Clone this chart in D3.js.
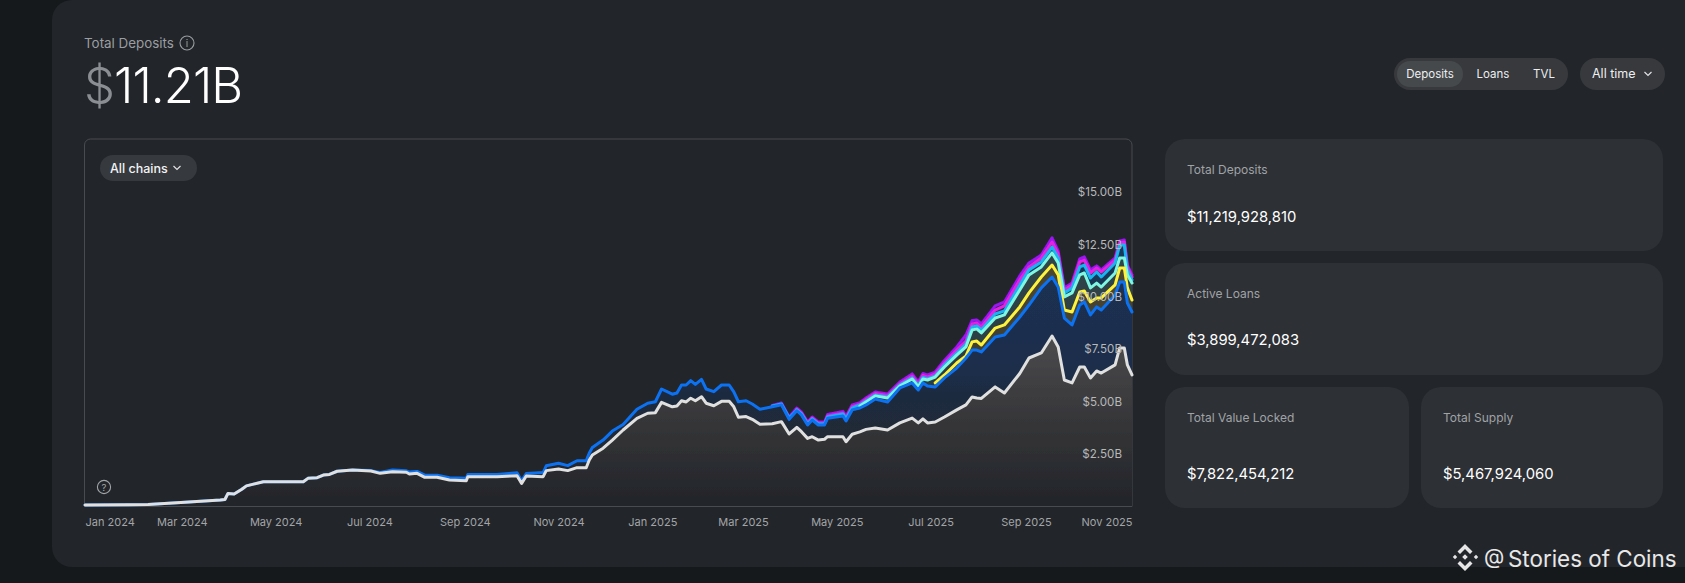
<!DOCTYPE html>
<html><head><meta charset="utf-8">
<script src="https://cdn.jsdelivr.net/npm/d3@7/dist/d3.min.js"></script>
<style>
html,body{margin:0;padding:0;background:#15191b;overflow:hidden}
svg{display:block}
text{font-family:Inter,"Noto Sans",sans-serif}
</style></head><body>
<svg id="c" width="1685" height="583"></svg>
<script>
// ---- data (values in $B) ----
const earlyDates = ["2023-12-29","2024-01-27","2024-02-08","2024-03-03","2024-03-26","2024-03-29","2024-03-31","2024-04-04","2024-04-09","2024-04-12","2024-04-23","2024-05-19","2024-05-22","2024-05-28","2024-06-01","2024-06-05","2024-06-10","2024-06-20","2024-07-02","2024-07-08","2024-07-16","2024-07-25","2024-07-27","2024-08-01","2024-08-06","2024-08-14","2024-08-22","2024-09-02","2024-09-03","2024-09-22","2024-10-05","2024-10-08","2024-10-11","2024-10-22","2024-10-24","2024-11-01","2024-11-07","2024-11-13","2024-11-19","2024-11-21","2024-11-23","2024-11-30","2024-12-06","2024-12-13","2024-12-22","2024-12-29","2025-01-03","2025-01-07","2025-01-14","2025-01-17","2025-01-20","2025-01-23","2025-01-26","2025-01-29","2025-02-02","2025-02-05","2025-02-10","2025-02-15","2025-02-20","2025-02-23","2025-02-26","2025-03-03","2025-03-07","2025-03-12"];
const lateDates = ["2025-03-20","2025-03-26","2025-03-31","2025-04-05","2025-04-08","2025-04-12","2025-04-15","2025-04-19","2025-04-23","2025-04-25","2025-05-05","2025-05-07","2025-05-11","2025-05-16","2025-05-20","2025-05-26","2025-06-03","2025-06-11","2025-06-19","2025-06-23","2025-06-26","2025-06-29","2025-07-04","2025-07-10","2025-07-18","2025-07-24","2025-07-28","2025-07-31","2025-08-03","2025-08-12","2025-08-18","2025-08-28","2025-09-03","2025-09-11","2025-09-18","2025-09-22","2025-09-26","2025-10-01","2025-10-06","2025-10-09","2025-10-13","2025-10-17","2025-10-20","2025-10-29","2025-11-01","2025-11-04","2025-11-06","2025-11-09"];

const whiteEarly = [.05,.06,.07,.18,.29,.31,.60,.57,.80,.96,1.16,1.16,1.32,1.35,1.48,1.51,1.66,1.72,1.67,1.56,1.64,1.61,1.53,1.56,1.37,1.37,1.24,1.21,1.40,1.40,1.45,1.08,1.43,1.40,1.69,1.77,1.69,1.83,1.83,2.20,2.44,2.76,3.15,3.63,4.19,4.43,4.46,4.95,4.74,4.78,5.03,4.97,5.15,5.03,5.22,4.91,4.79,5.00,5.00,4.74,4.24,4.27,4.14,3.90];
const blueEarly = [.05,.06,.07,.18,.29,.31,.60,.57,.80,.96,1.16,1.16,1.32,1.35,1.48,1.51,1.66,1.72,1.69,1.60,1.72,1.68,1.62,1.65,1.48,1.47,1.35,1.32,1.50,1.51,1.59,1.20,1.55,1.60,1.92,2.04,1.93,2.16,2.16,2.53,2.79,3.15,3.58,3.89,4.62,4.91,4.98,5.59,5.34,5.40,5.78,5.78,5.99,5.81,6.05,5.59,5.46,5.78,5.78,5.45,4.98,5.03,4.87,4.62];

const whiteLate = [3.93,4.03,3.44,3.76,3.55,3.23,3.31,3.15,3.19,3.31,3.31,3.07,3.43,3.54,3.66,3.73,3.63,3.97,4.20,3.97,4.16,3.97,4.01,4.25,4.59,4.83,5.21,5.16,5.14,5.69,5.40,6.33,7.07,7.31,8.12,7.60,6.02,5.88,6.64,6.64,6.12,6.45,6.35,6.74,7.55,7.55,6.74,6.26];
const blueLate = [4.74,4.83,4.14,4.55,4.35,3.87,4.11,3.87,3.87,4.19,4.30,4.06,4.59,4.68,4.83,5.11,4.97,5.64,5.88,5.54,5.88,5.73,5.69,6.12,6.59,7.07,7.45,7.45,7.36,8.07,8.17,9.03,9.60,10.42,10.94,10.46,8.98,8.65,9.60,9.75,9.13,9.51,9.36,10.08,10.70,10.70,9.70,9.27];
const yellowLate = [null,null,null,null,null,null,null,null,null,null,null,null,null,null,null,null,null,null,null,null,null,null,5.88,6.26,6.83,7.17,7.84,7.88,7.69,8.50,8.65,9.51,10.18,10.94,11.51,11.04,9.36,9.27,10.22,10.27,9.75,9.94,9.94,10.56,11.37,11.37,10.42,9.84];
const aquaLate = [null,null,null,null,null,null,null,null,null,null,null,null,null,4.78,4.97,5.26,5.16,5.73,6.07,5.69,6.07,6.02,6.16,6.64,7.21,7.60,8.41,8.46,8.27,8.98,9.13,10.32,11.04,11.42,12.09,11.61,9.99,10.18,11.04,11.13,10.42,10.65,10.46,11.13,11.85,11.85,11.04,10.65];
const skyLate = [4.78,4.87,4.20,4.59,4.40,3.92,4.16,3.92,3.92,4.25,4.40,4.16,4.68,4.83,5.02,5.30,5.21,5.78,6.12,5.76,6.14,6.07,6.21,6.74,7.31,7.74,8.55,8.60,8.41,9.17,9.32,10.56,11.28,11.66,12.37,11.85,10.18,10.42,11.42,11.51,10.89,11.18,10.94,11.61,12.47,12.47,11.28,10.80];
const magentaLate = [null,null,null,4.63,4.44,3.97,4.20,3.97,3.97,4.30,4.44,4.20,4.75,4.86,5.09,5.38,5.28,5.83,6.21,5.83,6.24,6.16,6.31,6.83,7.45,7.88,8.70,8.74,8.55,9.36,9.56,10.80,11.42,11.85,12.61,12.04,10.32,10.56,11.66,11.75,11.13,11.37,11.18,11.75,12.57,12.61,11.42,10.94];
const purpleLate = [4.80,4.92,4.25,4.68,4.49,4.01,4.25,4.01,4.01,4.37,4.52,4.28,4.83,4.94,5.16,5.45,5.35,5.92,6.31,5.92,6.33,6.26,6.40,6.95,7.60,8.17,8.86,8.89,8.70,9.56,9.75,10.99,11.61,11.99,12.81,12.18,10.42,10.65,11.80,11.90,11.28,11.47,11.28,11.85,12.66,12.71,11.51,11.04];

const yTicks = [2.5,5,7.5,10,12.5,15];
const xTickDates = ["2024-01-01","2024-03-01","2024-05-01","2024-07-01","2024-09-01","2024-11-01","2025-01-01","2025-03-01","2025-05-01","2025-07-01","2025-09-01","2025-11-01"];
const statLabels = ["Total Deposits","Active Loans","Total Value Locked","Total Supply"];
const statValues = ["$11,219,928,810","$3,899,472,083","$7,822,454,212","$5,467,924,060"];
const toggleLabels = ["Deposits","Loans","TVL"];

// ---- helpers ----
const svg = d3.select("#c");
const parse = d3.utcParse("%Y-%m-%d");
const zip = (ds, vs) => ds.map((d,i)=>({date:parse(d),v:vs[i]}));
const x = d3.scaleUtc().domain([parse("2023-12-29"),parse("2025-11-09")]).range([85,1132]);
const y = d3.scaleLinear().domain([0,15]).range([506,192]);

const defs = svg.append("defs");
function grad(id, stops){
  const g = defs.append("linearGradient").attr("id",id).attr("gradientUnits","userSpaceOnUse")
    .attr("x1",0).attr("x2",0).attr("y1",stops[0][0]).attr("y2",stops[stops.length-1][0]);
  const a=stops[0][0], b=stops[stops.length-1][0];
  stops.forEach(s=>g.append("stop").attr("offset",(s[0]-a)/(b-a)).attr("stop-color",s[1]));
}
grad("gWhite",[[335,"#4c4c4e"],[400,"#3b3b3e"],[450,"#2f3033"],[506,"#22252a"]]);
grad("gBlue",[[280,"#1b3052"],[370,"#1d2e4a"],[400,"#1f2b3e"],[470,"#21282f"],[506,"#22252a"]]);
grad("gYellow",[[260,"#4c472f"],[400,"#3a3a30"]]);
grad("gAqua",[[250,"#2e4649"],[400,"#2a3a40"]]);
grad("gSky",[[240,"#173a5c"],[400,"#1c3048"]]);
grad("gMag",[[235,"#3a2a55"],[400,"#2a2a48"]]);
defs.append("filter").attr("id","soft").attr("x","-2%").attr("y","-2%").attr("width","104%").attr("height","104%")
  .append("feGaussianBlur").attr("stdDeviation",0.35);

// ---- panel ----
svg.append("rect").attr("x",0).attr("y",0).attr("width",1685).attr("height",583).attr("fill","#15191b");
svg.append("rect").attr("x",52).attr("y",0).attr("width",1700).attr("height",567).attr("rx",20).attr("fill","#22252a");

// ---- header ----
svg.append("text").attr("x",84).attr("y",47.5).attr("font-size",13.4).attr("fill","#9b9ea1").text("Total Deposits");
const info = svg.append("g").attr("transform","translate(187,43)");
info.append("circle").attr("r",7).attr("fill","none").attr("stroke","#9b9ea1").attr("stroke-width",1.1);
info.append("text").attr("text-anchor","middle").attr("y",3.6).attr("font-size",10).attr("fill","#9b9ea1").text("i");
const big = svg.append("text").attr("x",84).attr("y",103).attr("font-size",49).attr("font-weight",300).attr("letter-spacing",-0.9);
big.append("tspan").attr("fill","#8b8e92").text("$");
big.append("tspan").attr("fill","#ffffff").text("11.21B");

// toggle
svg.append("rect").attr("x",1394).attr("y",58).attr("width",174).attr("height",32).attr("rx",16).attr("fill","#37393d");
svg.append("rect").attr("x",1397).attr("y",61).attr("width",66).attr("height",26).attr("rx",13).attr("fill","#46494c");
[1430,1493,1544].forEach((cx,i)=>svg.append("text").attr("x",cx).attr("y",77.5).attr("text-anchor","middle").attr("font-size",11.5).attr("fill","#eceef0").text(toggleLabels[i]));
svg.append("rect").attr("x",1580).attr("y",58).attr("width",85).attr("height",32).attr("rx",16).attr("fill","#37393d");
svg.append("text").attr("x",1592).attr("y",78).attr("font-size",12.5).attr("fill","#eceef0").text("All time");
const chev=(cx,cy)=>svg.append("path").attr("d",`M${cx-3.5},${cy-2}L${cx},${cy+1.5}L${cx+3.5},${cy-2}`).attr("fill","none").attr("stroke","#e0e2e4").attr("stroke-width",1.2);
chev(1648,74);

// ---- stat cards ----
const cards=[[1165,139,498,112,1187,170,216],[1165,263,498,112,1187,294,339],[1165,387,244,121,1187,418,473],[1421,387,242,121,1443,418,473]];
cards.forEach((c,i)=>{
  svg.append("rect").attr("x",c[0]).attr("y",c[1]).attr("width",c[2]).attr("height",c[3]).attr("rx",20).attr("fill","#2d3035");
  svg.append("text").attr("x",c[4]).attr("y",c[5]+4).attr("font-size",12).attr("fill","#a0a3a6").text(statLabels[i]);
  svg.append("text").attr("x",c[4]).attr("y",c[6]+5.5).attr("font-size",14.8).attr("fill","#ffffff").text(statValues[i]);
});

// ---- chart frame ----
svg.append("path").attr("d","M84.5,506.5V145a6,6 0 0 1 6,-6H1126a6,6 0 0 1 6,6V506.5Z").attr("fill","none").attr("stroke","#484b4f").attr("stroke-width",1);

// ---- series, top of stack first ----
const late = [
  {vals:purpleLate, color:"#9a12f2", fill:"url(#gMag)"},
  {vals:magentaLate,color:"#e524e0", fill:"url(#gMag)"},
  {vals:skyLate,    color:"#16b4f2", fill:"url(#gSky)"},
  {vals:aquaLate,   color:"#7ff6e2", fill:"url(#gAqua)"},
  {vals:yellowLate, color:"#fff23c", fill:"url(#gYellow)"}
];
const area = d3.area().defined(d=>d.v!=null).x(d=>x(d.date)).y0(y(0)).y1(d=>y(d.v));
const line = d3.line().defined(d=>d.v!=null).x(d=>x(d.date)).y(d=>y(d.v));
const marks = svg.append("g").attr("filter","url(#soft)");
const blueAll = zip(earlyDates.concat(lateDates), blueEarly.concat(blueLate));
const whiteAll = zip(earlyDates.concat(lateDates), whiteEarly.concat(whiteLate));
const layers = late.map(s=>({data:zip(lateDates,s.vals),color:s.color,fill:s.fill}))
  .concat([{data:blueAll,color:"#0b72f2",fill:"url(#gBlue)"},{data:whiteAll,color:"#e0e0e0",fill:"url(#gWhite)"}]);
layers.forEach(l=>{
  marks.append("path").attr("d",area(l.data)).attr("fill",l.fill);
});
layers.forEach(l=>{
  marks.append("path").attr("d",line(l.data)).attr("fill","none").attr("stroke",l.color).attr("stroke-width",3).attr("stroke-linejoin","round").attr("stroke-linecap","round");
});

// ---- axes ----
const yAxis = d3.axisLeft(y).tickValues(yTicks).tickSize(0).tickPadding(0).tickFormat(d=>"$"+d3.format(".2f")(d)+"B");
const gy = svg.append("g").attr("transform","translate(1122,0)").call(yAxis);
gy.select(".domain").remove();
gy.selectAll("text").attr("font-size",11.6).attr("font-family","Inter,sans-serif").attr("fill","#b6b8ba");

const xAxis = d3.axisBottom(x).tickValues(xTickDates.map(parse)).tickSize(0).tickPadding(0).tickFormat(d3.utcFormat("%b %Y"));
const gx = svg.append("g").attr("transform","translate(0,518)").call(xAxis);
gx.select(".domain").remove();
gx.selectAll("text").attr("font-size",11).attr("font-family","Inter,sans-serif").attr("fill","#a2a5a8");
const n = xTickDates.length;
gx.selectAll("text").filter((d,i)=>i===0).attr("text-anchor","start").attr("x",85-x(parse(xTickDates[0])));
gx.selectAll("text").filter((d,i)=>i===n-1).attr("text-anchor","end").attr("x",1132-x(parse(xTickDates[n-1])));

// ---- chain pill and help icon ----
svg.append("rect").attr("x",100).attr("y",155).attr("width",97).attr("height",26).attr("rx",13).attr("fill","#36393d");
svg.append("text").attr("x",110).attr("y",172.5).attr("font-size",12.5).attr("font-weight",500).attr("fill","#f2f3f4").text("All chains");
chev(177,168);
const help = svg.append("g").attr("transform","translate(104,487)");
help.append("circle").attr("r",6.6).attr("fill","none").attr("stroke","#a2a5a8").attr("stroke-width",1.1);
help.append("text").attr("text-anchor","middle").attr("y",3.5).attr("font-size",9.5).attr("fill","#a2a5a8").text("?");

// ---- watermark ----
const wm = svg.append("g").attr("fill","#e6e6e6");
const diamond=(cx,cy,r)=>wm.append("path").attr("d",`M${cx},${cy-r}L${cx+r},${cy}L${cx},${cy+r}L${cx-r},${cy}Z`);
diamond(1465,557,2.8); diamond(1455,557,2.2); diamond(1476,557,2.2);
wm.append("path").attr("d","M1465,544L1472.5,551.5L1470,554L1465,549L1460,554L1457.5,551.5Z");
wm.append("path").attr("d","M1465,571L1472.5,563.5L1470,561L1465,566L1460,561L1457.5,563.5Z");
svg.append("text").attr("x",1484).attr("y",564).attr("font-family","Liberation Sans,Arial,sans-serif").attr("font-size",21).attr("fill","#e8e8e8").text("@");
svg.append("text").attr("x",1508).attr("y",567).attr("font-family","Liberation Sans,Arial,sans-serif").attr("font-size",22.4).attr("fill","#e8e8e8").text("Stories of Coins");
</script>
</body></html>
